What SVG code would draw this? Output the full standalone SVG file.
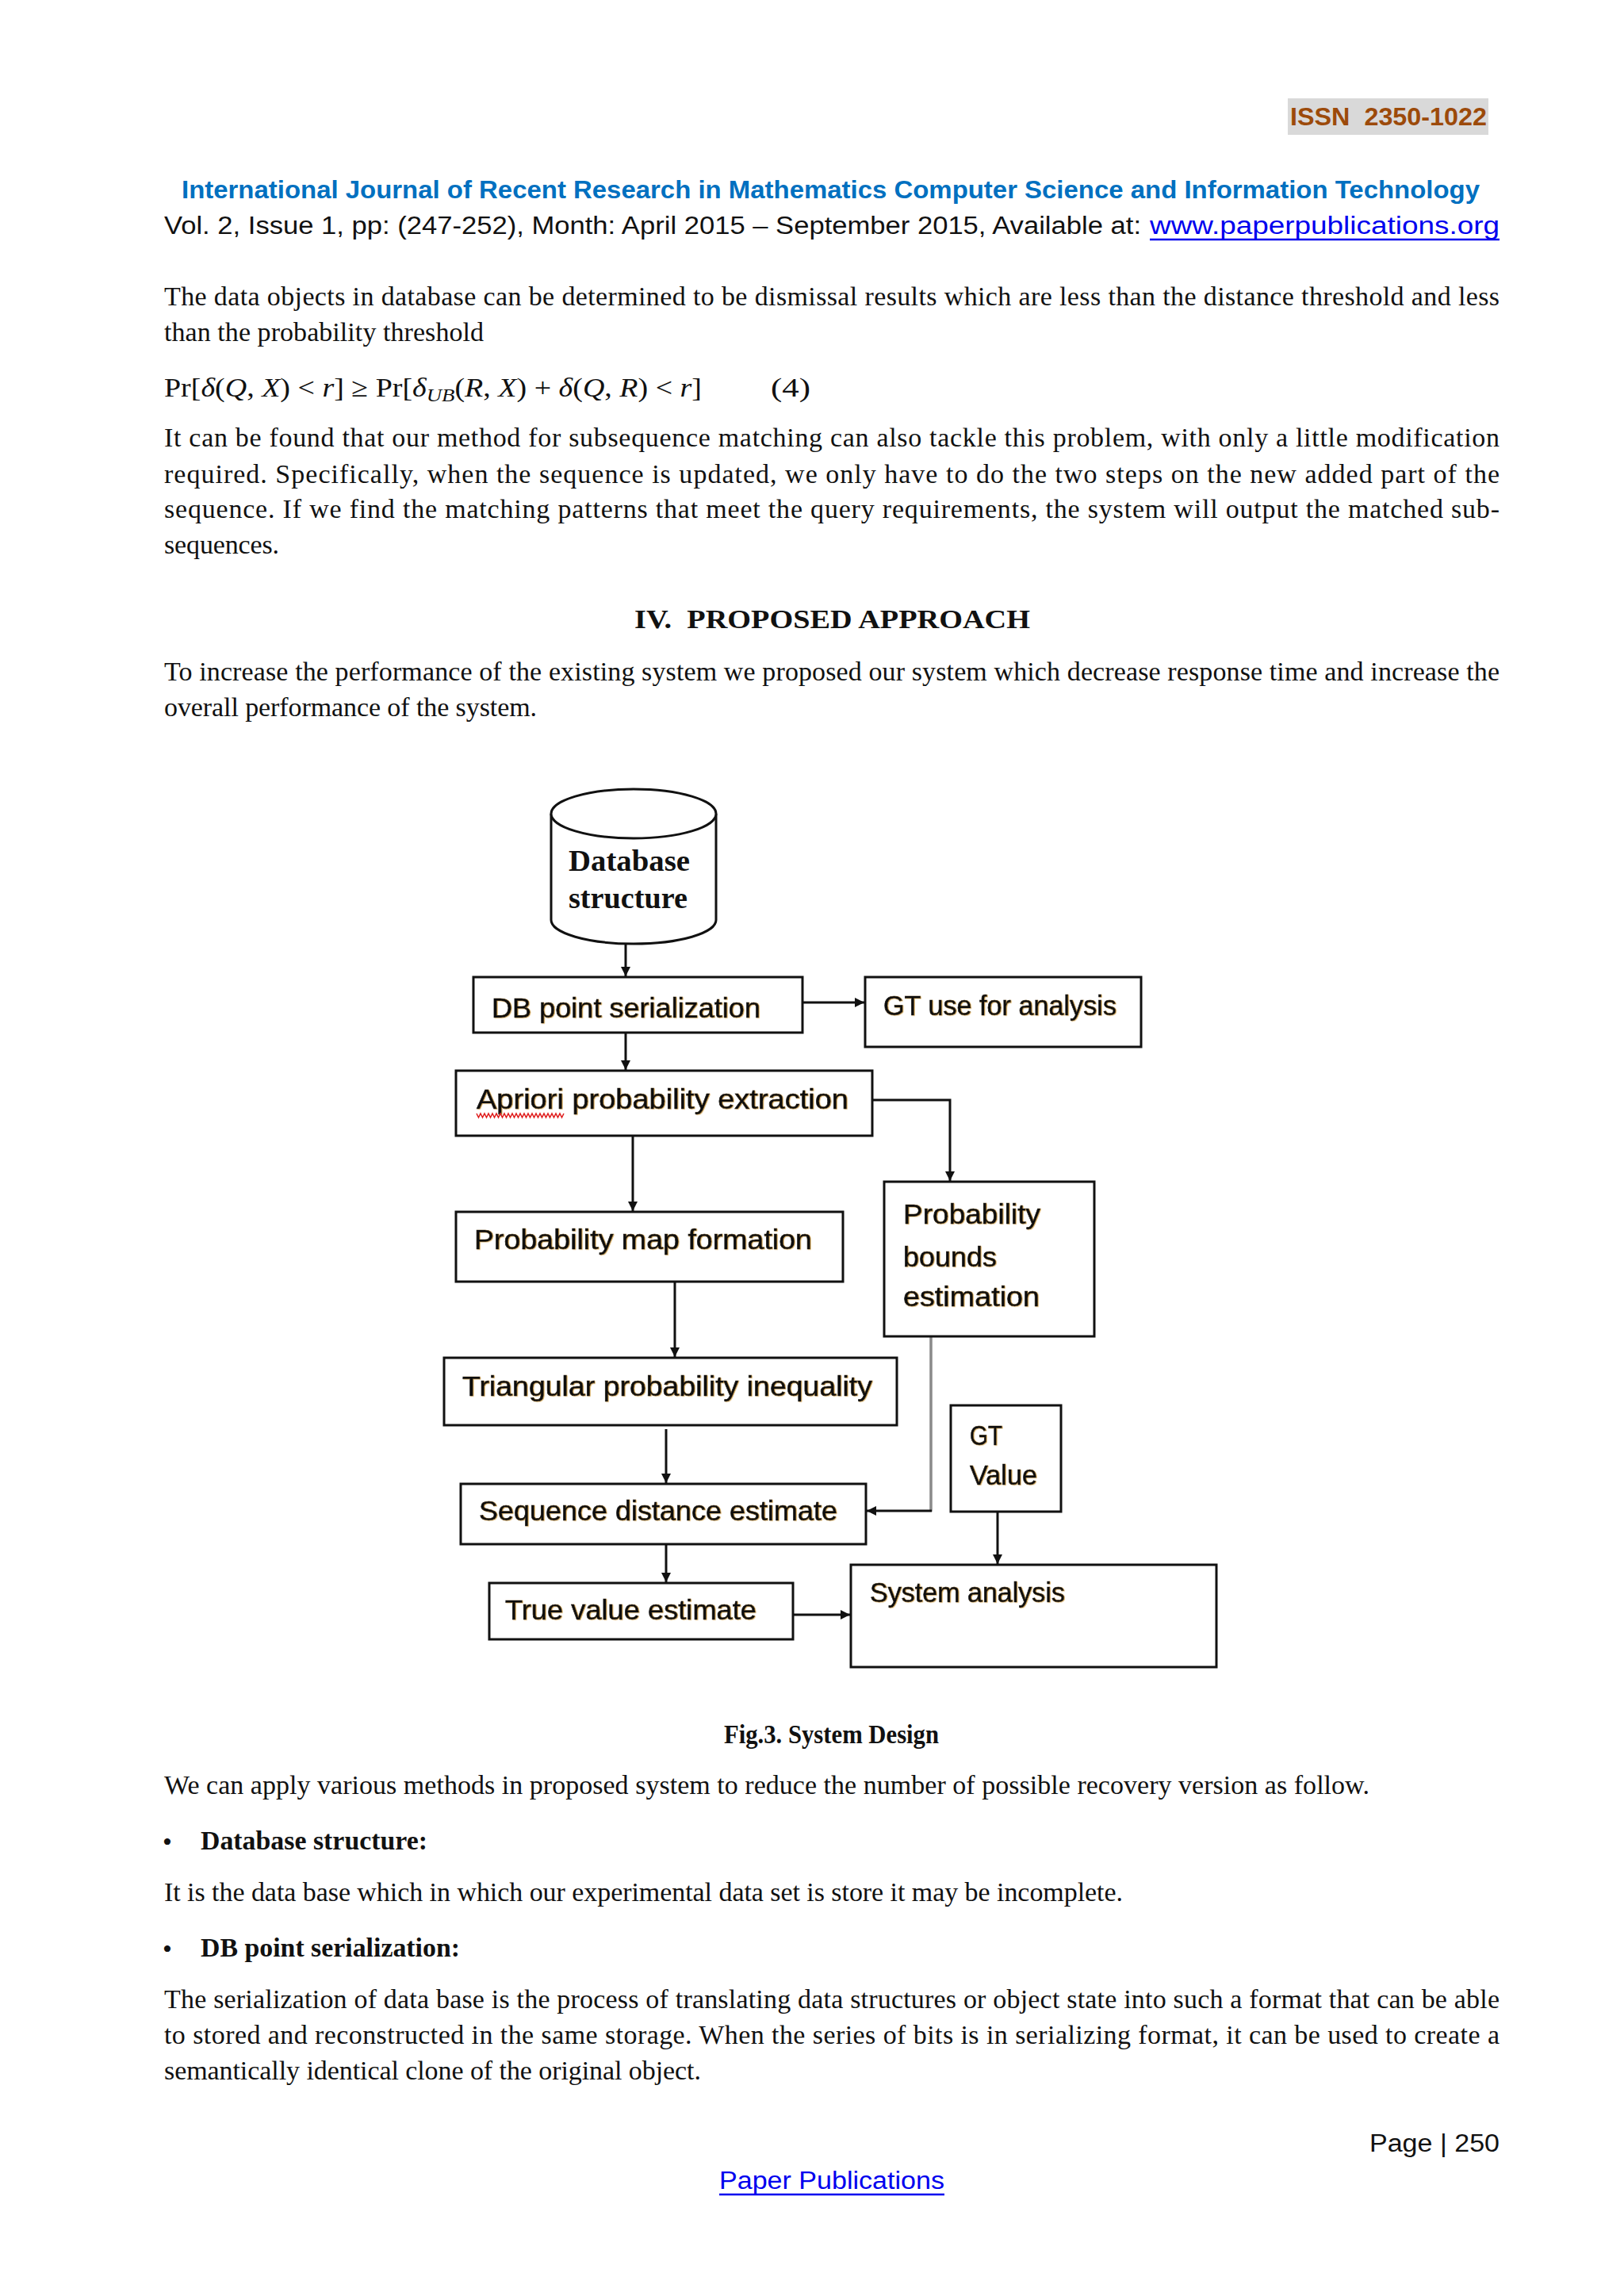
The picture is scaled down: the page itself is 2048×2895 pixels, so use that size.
<svg xmlns="http://www.w3.org/2000/svg" width="2048" height="2895" viewBox="0 0 2048 2895">
<style>
.body{font-family:"Liberation Serif","Times New Roman",serif;font-size:34px;fill:#111}
.bold{font-weight:bold}
.hdr{font-family:"Liberation Sans",Arial,sans-serif;font-size:31px}
.box{fill:#fff;stroke:#111;stroke-width:3}
.lbl{font-family:"Liberation Sans",Arial,sans-serif;font-size:35px;fill:#111;stroke:#111;stroke-width:0.6;filter:url(#glow)}
.con{fill:none;stroke:#111;stroke-width:3}
</style>
<defs>
<marker id="ah" markerUnits="userSpaceOnUse" markerWidth="14" markerHeight="14" refX="12" refY="7" orient="auto">
<path d="M0,1 L12,7 L0,13 Z" fill="#111"/>
</marker>
<filter id="glow" x="-5%" y="-20%" width="110%" height="140%">
<feDropShadow dx="1" dy="0.5" stdDeviation="0.6" flood-color="#d4a24a" flood-opacity="0.8"/>
</filter>
</defs>
<rect width="2048" height="2895" fill="#fff"/>

<!-- Header -->
<g id="header">
<rect x="1624" y="124" width="253" height="46" fill="#d9d9d9"/>
<text x="1627" y="158" class="hdr" font-weight="bold" font-size="32" fill="#9c4a0a" textLength="248" lengthAdjust="spacingAndGlyphs">ISSN&#160; 2350-1022</text>
<text x="229" y="250" class="hdr" font-weight="bold" fill="#0070c0" textLength="1637" lengthAdjust="spacingAndGlyphs">International Journal of Recent Research in Mathematics Computer Science and Information Technology</text>
<text x="207" y="295" class="hdr" fill="#111" textLength="1232" lengthAdjust="spacingAndGlyphs">Vol. 2, Issue 1, pp: (247-252), Month: April 2015 – September 2015, Available at:</text>
<text x="1450" y="295" class="hdr" fill="#0000ee" textLength="441" lengthAdjust="spacingAndGlyphs">www.paperpublications.org</text>
<line x1="1450" y1="302" x2="1891" y2="302" stroke="#0000ee" stroke-width="2.5"/>
</g>

<!-- Body text top -->
<g id="text-top">
<text x="207" y="385" class="body" textLength="1684" lengthAdjust="spacing">The data objects in database can be determined to be dismissal results which are less than the distance threshold and less</text>
<text x="207" y="430" class="body" textLength="403" lengthAdjust="spacing">than the probability threshold</text>
<text x="207" y="500" class="body" font-size="36" textLength="678" lengthAdjust="spacingAndGlyphs">Pr[<tspan font-style="italic">δ</tspan>(<tspan font-style="italic">Q</tspan>, <tspan font-style="italic">X</tspan>) &lt; <tspan font-style="italic">r</tspan>] ≥ Pr[<tspan font-style="italic">δ</tspan><tspan font-style="italic" font-size="24" dy="6">UB</tspan><tspan dy="-6">(</tspan><tspan font-style="italic">R</tspan>, <tspan font-style="italic">X</tspan>) + <tspan font-style="italic">δ</tspan>(<tspan font-style="italic">Q</tspan>, <tspan font-style="italic">R</tspan>) &lt; <tspan font-style="italic">r</tspan>]</text>
<text x="972" y="500" class="body" textLength="50" lengthAdjust="spacingAndGlyphs">(4)</text>
<text x="207" y="563" class="body" textLength="1684" lengthAdjust="spacing">It can be found that our method for subsequence matching can also tackle this problem, with only a little modification</text>
<text x="207" y="609" class="body" textLength="1684" lengthAdjust="spacing">required. Specifically, when the sequence is updated, we only have to do the two steps on the new added part of the</text>
<text x="207" y="653" class="body" textLength="1684" lengthAdjust="spacing">sequence. If we find the matching patterns that meet the query requirements, the system will output the matched sub-</text>
<text x="207" y="698" class="body" textLength="145" lengthAdjust="spacing">sequences.</text>
<text x="800" y="792" class="body bold" font-size="35" textLength="499" lengthAdjust="spacingAndGlyphs">IV.&#160; PROPOSED APPROACH</text>
<text x="207" y="858" class="body" textLength="1684" lengthAdjust="spacing">To increase the performance of the existing system we proposed our system which decrease response time and increase the</text>
<text x="207" y="903" class="body" textLength="470" lengthAdjust="spacing">overall performance of the system.</text>
</g>

<!-- Connectors -->
<g id="connectors">
<line class="con" x1="789" y1="1190" x2="789" y2="1231" marker-end="url(#ah)"/>
<line class="con" x1="1012" y1="1264" x2="1090" y2="1264" marker-end="url(#ah)"/>
<line class="con" x1="789" y1="1302" x2="789" y2="1349" marker-end="url(#ah)"/>
<polyline class="con" points="1100,1387 1198,1387 1198,1489" marker-end="url(#ah)"/>
<line class="con" x1="798" y1="1430" x2="798" y2="1527" marker-end="url(#ah)"/>
<line class="con" x1="851" y1="1613" x2="851" y2="1711" marker-end="url(#ah)"/>
<line x1="1174" y1="1685" x2="1174" y2="1906" stroke="#8a8a8a" stroke-width="3.5"/>
<line class="con" x1="1175" y1="1905" x2="1093" y2="1905" marker-end="url(#ah)"/>
<line class="con" x1="840" y1="1802" x2="840" y2="1870" marker-end="url(#ah)"/>
<line class="con" x1="840" y1="1947" x2="840" y2="1995" marker-end="url(#ah)"/>
<line class="con" x1="1000" y1="2036" x2="1072" y2="2036" marker-end="url(#ah)"/>
<line class="con" x1="1258" y1="1906" x2="1258" y2="1972" marker-end="url(#ah)"/>
</g>

<!-- Nodes -->
<g id="node-database">
<path d="M695,1026 L695,1160 A104,30 0 0 0 903,1160 L903,1026" fill="#fff" stroke="#111" stroke-width="3"/>
<ellipse cx="799" cy="1026" rx="104" ry="31" fill="#fff" stroke="#111" stroke-width="3"/>
<text x="717" y="1098" font-family="Liberation Serif,serif" font-weight="bold" font-size="37" fill="#111" textLength="153" lengthAdjust="spacingAndGlyphs">Database</text>
<text x="717" y="1145" font-family="Liberation Serif,serif" font-weight="bold" font-size="37" fill="#111" textLength="150" lengthAdjust="spacingAndGlyphs">structure</text>
</g>
<g id="node-db-serial">
<rect class="box" x="597" y="1232" width="415" height="70"/>
<text x="620" y="1283" class="lbl" textLength="339" lengthAdjust="spacingAndGlyphs">DB point serialization</text>
</g>
<g id="node-gt-use">
<rect class="box" x="1091" y="1232" width="348" height="88"/>
<text x="1114" y="1280" class="lbl" textLength="294" lengthAdjust="spacingAndGlyphs">GT use for analysis</text>
</g>
<g id="node-apriori">
<rect class="box" x="575" y="1350" width="525" height="82"/>
<text x="601" y="1398" class="lbl" textLength="469" lengthAdjust="spacingAndGlyphs">Apriori probability extraction</text>
<path d="M601,1404 l2.5,5 l2.5,-5 l2.5,5 l2.5,-5 l2.5,5 l2.5,-5 l2.5,5 l2.5,-5 l2.5,5 l2.5,-5 l2.5,5 l2.5,-5 l2.5,5 l2.5,-5 l2.5,5 l2.5,-5 l2.5,5 l2.5,-5 l2.5,5 l2.5,-5 l2.5,5 l2.5,-5 l2.5,5 l2.5,-5 l2.5,5 l2.5,-5 l2.5,5 l2.5,-5 l2.5,5 l2.5,-5 l2.5,5 l2.5,-5 l2.5,5 l2.5,-5 l2.5,5 l2.5,-5 l2.5,5 l2.5,-5 l2.5,5 l2.5,-5 l2.5,5 l2.5,-5 l2.5,5 l2.5,-5" fill="none" stroke="#e02020" stroke-width="1.5"/>
</g>
<g id="node-prob-bounds">
<rect class="box" x="1115" y="1490" width="265" height="195"/>
<text x="1139" y="1543" class="lbl" textLength="173" lengthAdjust="spacingAndGlyphs">Probability</text>
<text x="1139" y="1597" class="lbl" textLength="118" lengthAdjust="spacingAndGlyphs">bounds</text>
<text x="1139" y="1647" class="lbl" textLength="172" lengthAdjust="spacingAndGlyphs">estimation</text>
</g>
<g id="node-prob-map">
<rect class="box" x="575" y="1528" width="488" height="88"/>
<text x="598" y="1575" class="lbl" textLength="426" lengthAdjust="spacingAndGlyphs">Probability map formation</text>
</g>
<g id="node-triangular">
<rect class="box" x="560" y="1712" width="571" height="85"/>
<text x="583" y="1760" class="lbl" textLength="517" lengthAdjust="spacingAndGlyphs">Triangular probability inequality</text>
</g>
<g id="node-gt-value">
<rect class="box" x="1199" y="1772" width="139" height="134"/>
<text x="1223" y="1822" class="lbl" textLength="41" lengthAdjust="spacingAndGlyphs">GT</text>
<text x="1223" y="1872" class="lbl" textLength="85" lengthAdjust="spacingAndGlyphs">Value</text>
</g>
<g id="node-sequence">
<rect class="box" x="581" y="1871" width="511" height="76"/>
<text x="604" y="1917" class="lbl" textLength="452" lengthAdjust="spacingAndGlyphs">Sequence distance estimate</text>
</g>
<g id="node-true-value">
<rect class="box" x="617" y="1996" width="383" height="71"/>
<text x="637" y="2042" class="lbl" textLength="317" lengthAdjust="spacingAndGlyphs">True value estimate</text>
</g>
<g id="node-system">
<rect class="box" x="1073" y="1973" width="461" height="129"/>
<text x="1097" y="2020" class="lbl" textLength="246" lengthAdjust="spacingAndGlyphs">System analysis</text>
</g>

<!-- Body text bottom -->
<g id="text-bottom">
<text x="913" y="2198" class="body bold" font-size="30" textLength="271" lengthAdjust="spacingAndGlyphs">Fig.3. System Design</text>
<text x="207" y="2262" class="body" textLength="1520" lengthAdjust="spacing">We can apply various methods in proposed system to reduce the number of possible recovery version as follow.</text>
<text x="205" y="2334" class="body" font-size="46">•</text>
<text x="253" y="2332" class="body bold" textLength="286" lengthAdjust="spacingAndGlyphs">Database structure:</text>
<text x="207" y="2397" class="body" textLength="1209" lengthAdjust="spacing">It is the data base which in which our experimental data set is store it may be incomplete.</text>
<text x="205" y="2469" class="body" font-size="46">•</text>
<text x="253" y="2467" class="body bold" textLength="327" lengthAdjust="spacingAndGlyphs">DB point serialization:</text>
<text x="207" y="2532" class="body" textLength="1684" lengthAdjust="spacing">The serialization of data base is the process of translating data structures or object state into such a format that can be able</text>
<text x="207" y="2577" class="body" textLength="1684" lengthAdjust="spacing">to stored and reconstructed in the same storage. When the series of bits is in serializing format, it can be used to create a</text>
<text x="207" y="2622" class="body" textLength="677" lengthAdjust="spacing">semantically identical clone of the original object.</text>
</g>

<!-- Footer -->
<g id="footer">
<text x="1727" y="2713" class="hdr" fill="#111" textLength="164" lengthAdjust="spacingAndGlyphs">Page | 250</text>
<text x="907" y="2760" class="hdr" fill="#0000ee" textLength="284" lengthAdjust="spacingAndGlyphs">Paper Publications</text>
<line x1="907" y1="2767" x2="1191" y2="2767" stroke="#0000ee" stroke-width="2.5"/>
</g>
</svg>
